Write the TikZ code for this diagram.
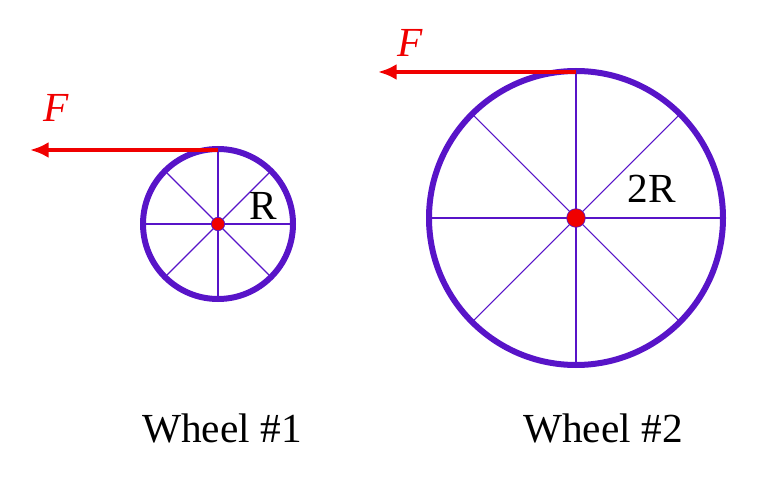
\documentclass[tikz,border=0pt]{standalone}
\usepackage{fontspec}
\setmainfont{Liberation Serif}
\definecolor{wp}{RGB}{88,20,200}
\definecolor{fr}{RGB}{240,0,0}
\begin{document}
\begin{tikzpicture}[x=0.75pt,y=-0.75pt,
  rim/.style={draw=wp,line width=4.5pt},
  spoke/.style={draw=wp,line width=0.8pt},
  hub/.style={circle,fill=fr,draw=wp,line width=0.5pt,inner sep=0pt},
  force/.style={draw=fr,line width=3.5pt,-{Latex[length=14pt,width=12pt]}},
  lbl/.style={font=\fontsize{31}{36}\selectfont},
  flbl/.style={font=\fontsize{31}{36}\selectfont\itshape,text=fr}]
\usetikzlibrary{arrows.meta}
\path[use as bounding box] (0,0) rectangle (782,481);
% wheel 1
\foreach \a in {0,45,...,315} \draw[spoke] (218,224) -- ++(\a:75);
\draw[rim] (218,224) circle (75);
\node[hub,minimum size=10pt] (h1) at (218,224) {};
\coordinate (t1) at (218,150);
\coordinate (e1) at (30,150);
\draw[force] (t1) -- (e1);
\node[flbl] (f1) at (56,108) {F};
\node[lbl] (r1) at (263,206) {R};
\node[lbl] (w1) at (222,428) {Wheel \#1};
% wheel 2
\foreach \a in {0,45,...,315} \draw[spoke] (576,218) -- ++(\a:147);
\draw[rim] (576,218) circle (147);
\node[hub,minimum size=14pt] (h2) at (576,218) {};
\coordinate (t2) at (576,72);
\coordinate (e2) at (378,72);
\draw[force] (t2) -- (e2);
\node[flbl] (f2) at (410,43) {F};
\node[lbl] (r2) at (652,189) {2R};
\node[lbl] (w2) at (603,428) {Wheel \#2};
\end{tikzpicture}
\end{document}
